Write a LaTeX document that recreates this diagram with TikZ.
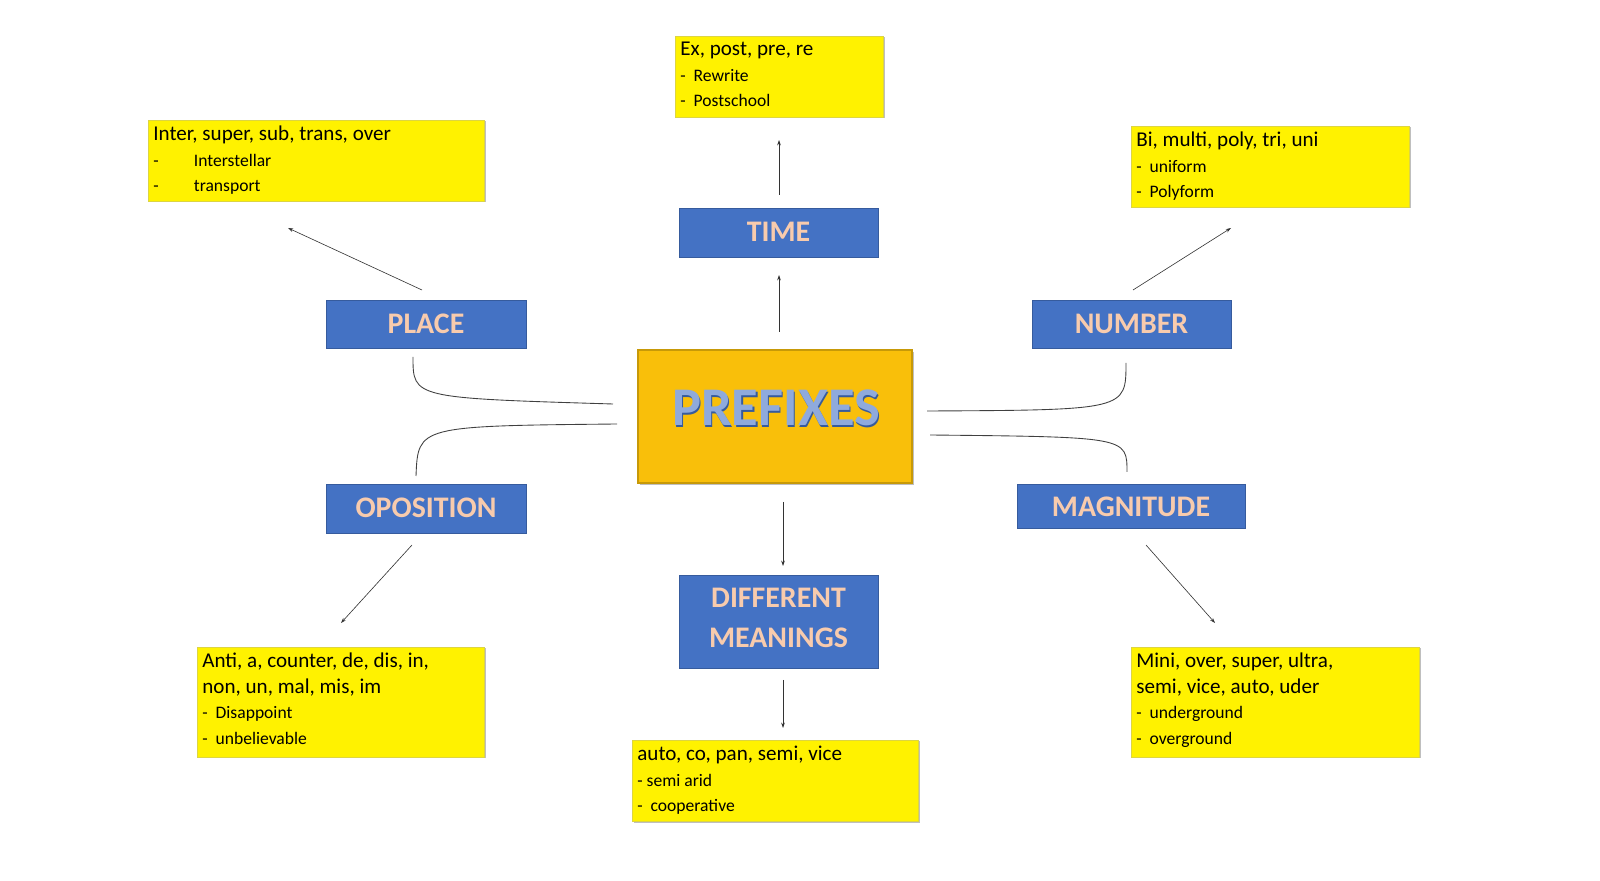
\documentclass[tikz,border=0pt]{standalone}
\usepackage{fontspec}
\setmainfont{Carlito}
\usetikzlibrary{arrows.meta}
\definecolor{bluebox}{HTML}{4472C4}
\definecolor{salmon}{HTML}{F8CBAD}
\definecolor{gold}{HTML}{F9BF0A}
\definecolor{pblue}{HTML}{8FAADC}
\definecolor{pdark}{HTML}{4472C4}
\tikzset{
 ybox/.style={fill=yellow,draw=yellow!70!gray,line width=0.3pt},
 shad/.style={fill=black!25},
 bbox/.style={fill=bluebox,draw=bluebox!80!black,line width=0.4pt},
 btext/.style={text=salmon,font=\fontsize{17}{22}\selectfont\bfseries,align=center},
 conn/.style={draw=black!80,line width=0.35pt,-{Stealth[length=3pt,width=2pt]}},
 curve/.style={draw=black!75,line width=0.5pt},
 ytext/.style={anchor=north west,align=left,inner sep=0pt,font=\fontsize{12}{14.5}\selectfont},
}
\newcommand{\sub}[1]{{\fontsize{10}{13}\selectfont #1}}
\newcommand{\yb}[4]{\fill[shad] (#1+1.5,#2+1.5) rectangle (#3+1.5,#4+1.5); \filldraw[ybox] (#1,#2) rectangle (#3,#4);}
\begin{document}
\begin{tikzpicture}[x=0.02cm,y=-0.02cm]
\useasboundingbox (0,0) rectangle (1600,881);
% yellow boxes
\yb{675}{36}{883}{117} \node[ytext] (ttime) at (680,42) {Ex, post, pre, re\\\sub{-\ \ Rewrite}\\\sub{-\ \ Postschool}};
\yb{148}{120}{484}{201} \node[ytext] (tplace) at (153,126) {Inter, super, sub, trans, over\\\sub{-\qquad Interstellar}\\\sub{-\qquad transport}};
\yb{1131}{126}{1409}{207} \node[ytext] (tnum) at (1136,132) {Bi, multi, poly, tri, uni\\\sub{-\ \ uniform}\\\sub{-\ \ Polyform}};
\yb{197}{647}{484}{757} \node[ytext] (topp) at (202,653) {Anti, a, counter, de, dis, in,\\non, un, mal, mis, im\\\sub{-\ \ Disappoint}\\\sub{-\ \ unbelievable}};
\yb{632}{740}{918}{821} \node[ytext] (tdiff) at (637,746) {auto, co, pan, semi, vice\\\sub{- semi arid}\\\sub{-\ \ cooperative}};
\yb{1131}{647}{1419}{757} \node[ytext] (tmag) at (1136,653) {Mini, over, super, ultra,\\semi, vice, auto, uder\\\sub{-\ \ underground}\\\sub{-\ \ overground}};
% center
\fill[shad] (640,352) rectangle (914,485);
\filldraw[fill=gold,draw=gold!80!black,line width=0.6pt] (638,350) rectangle (912,483);
\node[text=pdark!80!black,font=\fontsize{31}{36}\selectfont\bfseries] at (777.5,409.5) {PREFIXES};
\node[text=pblue,font=\fontsize{31}{36}\selectfont\bfseries] (pref) at (776,408) {PREFIXES};
% blue boxes
\filldraw[bbox] (679,208) rectangle (878,257); \node[btext] (time) at (778.5,232) {TIME};
\filldraw[bbox] (326,300) rectangle (526,348); \node[btext] (place) at (426,324) {PLACE};
\filldraw[bbox] (1032,300) rectangle (1231,348); \node[btext] (number) at (1131.5,324) {NUMBER};
\filldraw[bbox] (326,484) rectangle (526,533); \node[btext] (opp) at (426,508) {OPOSITION};
\filldraw[bbox] (1017,484) rectangle (1245,528); \node[btext] (mag) at (1131,507) {MAGNITUDE};
\filldraw[bbox] (679,575) rectangle (878,668); \node[btext] (diff) at (778.5,618) {DIFFERENT\\[1pt]MEANINGS};
% arrow coordinates
\coordinate (a1) at (779,332); \coordinate (b1) at (779,275);
\coordinate (a2) at (779,195); \coordinate (b2) at (779,140);
\coordinate (a3) at (422,290); \coordinate (b3) at (288,228);
\coordinate (a4) at (1133,290); \coordinate (b4) at (1231,228);
\coordinate (a5) at (412,545); \coordinate (b5) at (341,623);
\coordinate (a6) at (1146,545); \coordinate (b6) at (1215,623);
\coordinate (a7) at (783,502); \coordinate (b7) at (783,566);
\coordinate (a8) at (783,680); \coordinate (b8) at (783,728);
\foreach \i in {1,...,8} \draw[conn] (a\i) -- (b\i);
% curves
\coordinate (c1) at (413,357); \coordinate (d1) at (613,404);
\coordinate (c2) at (617,424); \coordinate (d2) at (416,476);
\coordinate (c3) at (927,411); \coordinate (d3) at (1126,363);
\coordinate (c4) at (930,435); \coordinate (d4) at (1127,472);
\draw[curve] (c1) .. controls (413,398) .. (d1);
\draw[curve] (c2) .. controls (418,426) .. (d2);
\draw[curve] (c3) .. controls (1126,410) .. (d3);
\draw[curve] (c4) .. controls (1127,437) .. (d4);
\end{tikzpicture}
\end{document}
